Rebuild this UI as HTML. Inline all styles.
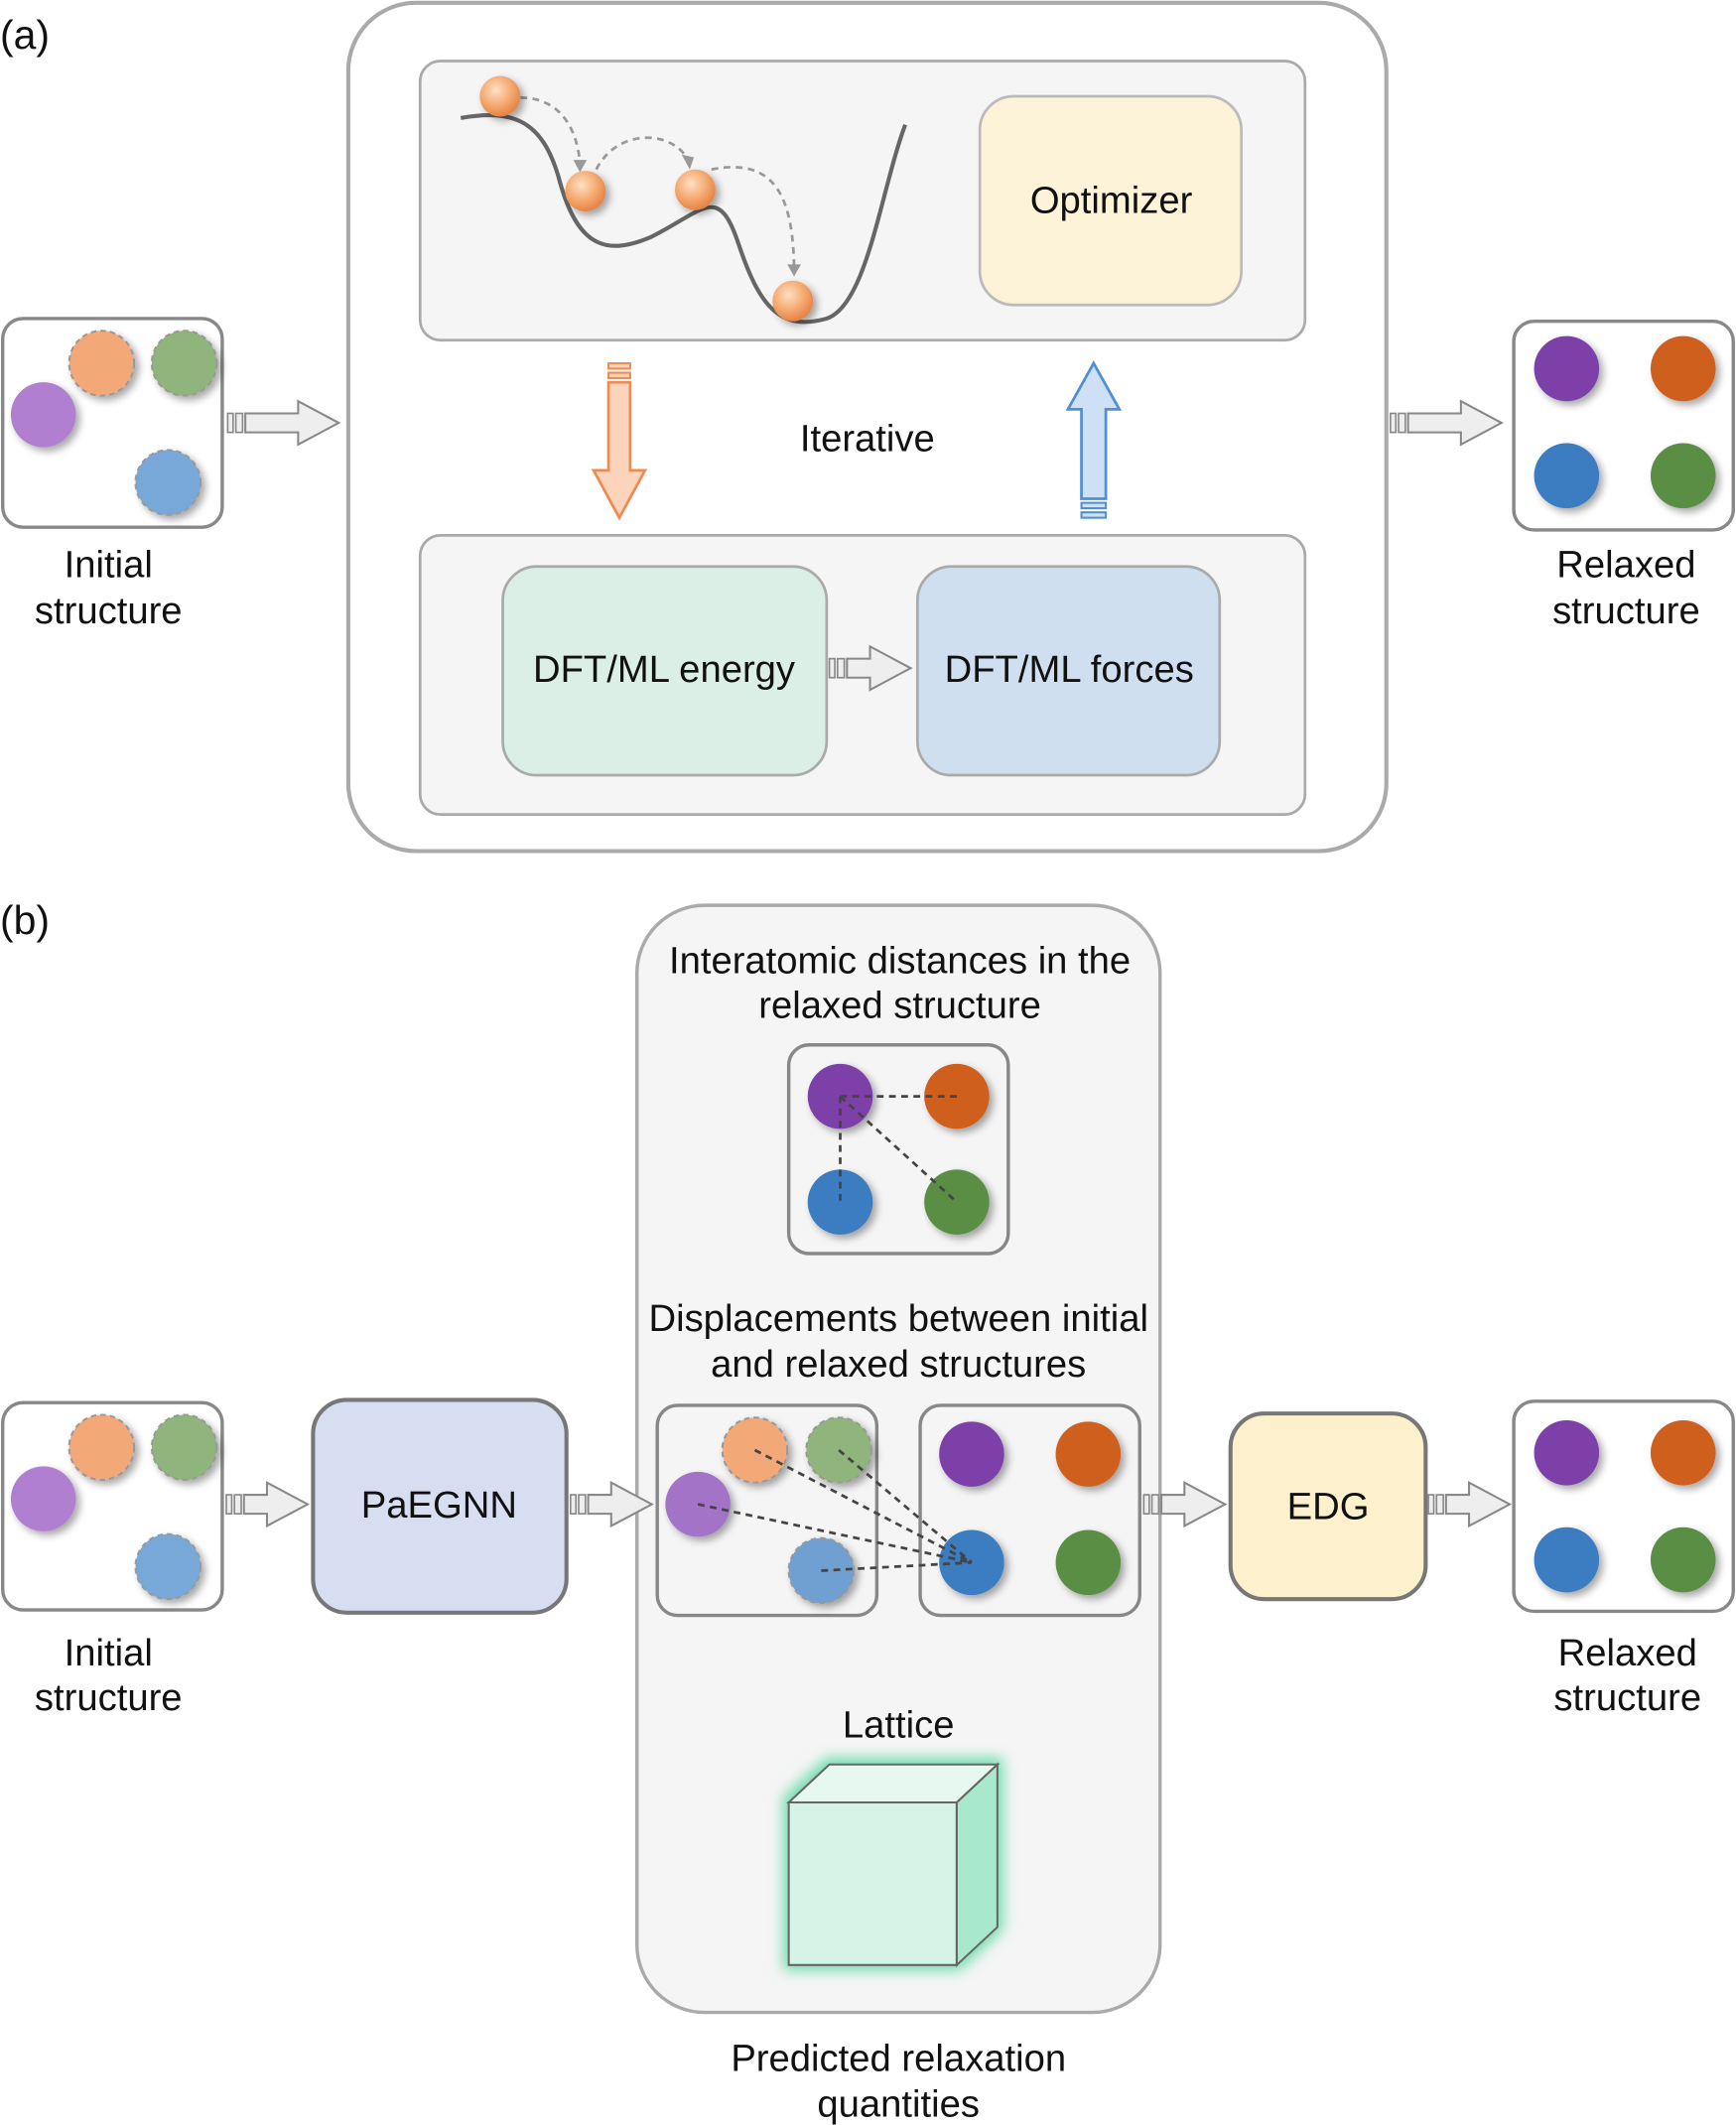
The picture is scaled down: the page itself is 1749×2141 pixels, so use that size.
<!DOCTYPE html>
<html><head><meta charset="utf-8"><style>
html,body{margin:0;padding:0;background:#fff}
svg{display:block}
text{font-family:"Liberation Sans",Arial,sans-serif;fill:#111}
</style></head><body>
<svg width="1749" height="2141" viewBox="0 0 1281 1568" xmlns="http://www.w3.org/2000/svg">
<defs>
<radialGradient id="ball" cx="40%" cy="35%" r="65%"><stop offset="0" stop-color="#fde0c4"/><stop offset="0.6" stop-color="#f5a86e"/><stop offset="1" stop-color="#e48446"/></radialGradient>
<filter id="sh" x="-50%" y="-50%" width="200%" height="200%"><feGaussianBlur in="SourceAlpha" stdDeviation="3"/><feOffset dx="3" dy="3"/><feComponentTransfer><feFuncA type="linear" slope="0.35"/></feComponentTransfer><feMerge><feMergeNode/><feMergeNode in="SourceGraphic"/></feMerge></filter>
<filter id="glow" x="-30%" y="-30%" width="160%" height="160%"><feGaussianBlur stdDeviation="5"/></filter>
<g id="arr"><rect x="0" y="-7" width="4" height="14" fill="#eee" stroke="#888" stroke-width="1.2"/><rect x="6" y="-7" width="5" height="14" fill="#eee" stroke="#888" stroke-width="1.2"/><path d="M13,-7 H52 V-16 L82,0 L52,16 V7 H13 Z" fill="#eee" stroke="#888" stroke-width="1.5"/></g>
<g id="arrS"><rect x="0" y="-7" width="4" height="14" fill="#eee" stroke="#888" stroke-width="1.2"/><rect x="6" y="-7" width="5" height="14" fill="#eee" stroke="#888" stroke-width="1.2"/><path d="M13,-7 H30 V-16 L60,0 L30,16 V7 H13 Z" fill="#eee" stroke="#888" stroke-width="1.5"/></g>
</defs>

<text x="0" y="36" font-size="30">(a)</text>
<rect x="257" y="2" width="766" height="626" rx="50" fill="#fff" stroke="#aaa" stroke-width="3"/>
<rect x="310" y="45" width="653" height="206" rx="15" fill="#f5f5f5" stroke="#aaa" stroke-width="2"/>
<rect x="723" y="71" width="193" height="154" rx="25" fill="#fdf3d9" stroke="#bbb" stroke-width="2"/>
<text x="820" y="157" font-size="28" text-anchor="middle">Optimizer</text>
<path d="M340,87 C380,80 400,90 412,130 C425,180 445,190 480,175 C520,155 530,135 545,180 C560,225 575,245 610,235 C640,225 650,140 668,92" fill="none" stroke="#666" stroke-width="3"/>
<g fill="none" stroke="#999" stroke-width="2" stroke-dasharray="5,4">
<path d="M384,72 C410,72 425,90 428,120"/><path d="M440,125 C455,95 495,95 508,118"/><path d="M525,125 C575,115 585,150 586,198"/>
</g>
<g fill="#999"><path d="M423,118 L433,118 L428,127Z"/><path d="M503,114 L512,116 L509,125Z"/><path d="M581,195 L591,195 L586,204Z"/></g>
<g filter="url(#sh)"><circle cx="369" cy="71" r="15" fill="url(#ball)"/><circle cx="432" cy="141" r="15" fill="url(#ball)"/><circle cx="513" cy="140" r="15" fill="url(#ball)"/><circle cx="585" cy="222" r="15" fill="url(#ball)"/></g>
<rect x="449" y="268" width="16" height="4" fill="#fbd4bb" stroke="#ef8a52" stroke-width="1.5"/>
<rect x="449" y="275" width="16" height="4" fill="#fbd4bb" stroke="#ef8a52" stroke-width="1.5"/>
<path d="M449,282 H465 V347 H476 L457,382 L438,347 H449 Z" fill="#fbd4bb" stroke="#ef8a52" stroke-width="2"/>
<rect x="798" y="378" width="18" height="4" fill="#cde0f5" stroke="#4f8fd6" stroke-width="1.5"/>
<rect x="798" y="371" width="18" height="4" fill="#cde0f5" stroke="#4f8fd6" stroke-width="1.5"/>
<path d="M798,368 H816 V302 H826 L807,268 L788,302 H798 Z" fill="#cde0f5" stroke="#4f8fd6" stroke-width="2"/>
<text x="640" y="333" font-size="28" text-anchor="middle">Iterative</text>
<rect x="310" y="395" width="653" height="206" rx="15" fill="#f5f5f5" stroke="#aaa" stroke-width="2"/>
<rect x="371" y="418" width="239" height="154" rx="25" fill="#dcefe6" stroke="#aaa" stroke-width="2"/>
<text x="490" y="503" font-size="28" text-anchor="middle">DFT/ML energy</text>
<rect x="677" y="418" width="223" height="154" rx="25" fill="#cfdff0" stroke="#aaa" stroke-width="2"/>
<text x="789" y="503" font-size="28" text-anchor="middle">DFT/ML forces</text>
<use href="#arrS" x="612" y="493"/>

<rect x="2" y="235" width="162" height="154" rx="15" fill="#fff" stroke="#888" stroke-width="2.5"/>
<g filter="url(#sh)">
<circle cx="75" cy="268" r="24" fill="#f3a878" stroke="#999" stroke-dasharray="4,3" stroke-width="1.5"/>
<circle cx="136" cy="268" r="24" fill="#8fb47c" stroke="#999" stroke-dasharray="4,3" stroke-width="1.5"/>
<circle cx="32" cy="306" r="24" fill="#b07fcf"/>
<circle cx="124" cy="356" r="24" fill="#78a8d8" stroke="#999" stroke-dasharray="4,3" stroke-width="1.5"/>
</g>
<text x="80" y="426" font-size="28" text-anchor="middle">Initial</text>
<text x="80" y="460" font-size="28" text-anchor="middle">structure</text>
<use href="#arr" x="168" y="312"/>
<rect x="1117" y="237" width="162" height="154" rx="15" fill="#fff" stroke="#888" stroke-width="2.5"/>
<g filter="url(#sh)">
<circle cx="1156" cy="272" r="24" fill="#7d3fa8"/><circle cx="1242" cy="272" r="24" fill="#cf5f1e"/>
<circle cx="1156" cy="351" r="24" fill="#3a7dc0"/><circle cx="1242" cy="351" r="24" fill="#5a8e45"/>
</g>
<text x="1200" y="426" font-size="28" text-anchor="middle">Relaxed</text>
<text x="1200" y="460" font-size="28" text-anchor="middle">structure</text>
<use href="#arr" x="1026" y="312"/>

<text x="0" y="689" font-size="30">(b)</text>
<rect x="470" y="668" width="386" height="817" rx="50" fill="#f5f5f5" stroke="#aaa" stroke-width="2.5"/>
<text x="664" y="718" font-size="28" text-anchor="middle">Interatomic distances in the</text>
<text x="664" y="751" font-size="28" text-anchor="middle">relaxed structure</text>
<rect x="582" y="771" width="162" height="154" rx="15" fill="#f5f5f5" stroke="#888" stroke-width="2.5"/>
<g filter="url(#sh)">
<circle cx="620" cy="809" r="24" fill="#7d3fa8"/><circle cx="706" cy="809" r="24" fill="#cf5f1e"/>
<circle cx="620" cy="887" r="24" fill="#3a7dc0"/><circle cx="706" cy="887" r="24" fill="#5a8e45"/>
</g>
<g stroke="#444" stroke-width="2" stroke-dasharray="5,4" fill="none">
<path d="M620,809 H706"/><path d="M620,809 V887"/><path d="M620,809 L706,887"/>
</g>
<text x="663" y="982" font-size="28" text-anchor="middle">Displacements between initial</text>
<text x="663" y="1016" font-size="28" text-anchor="middle">and relaxed structures</text>
<rect x="485" y="1037" width="162" height="155" rx="15" fill="#f5f5f5" stroke="#888" stroke-width="2.5"/>
<rect x="679" y="1037" width="162" height="155" rx="15" fill="#f5f5f5" stroke="#888" stroke-width="2.5"/>
<g filter="url(#sh)">
<circle cx="557" cy="1070" r="24" fill="#f3a878" stroke="#999" stroke-dasharray="4,3" stroke-width="1.5"/>
<circle cx="619" cy="1070" r="24" fill="#8fb47c" stroke="#999" stroke-dasharray="4,3" stroke-width="1.5"/>
<circle cx="515" cy="1110" r="24" fill="#a273c6"/>
<circle cx="606" cy="1159" r="24" fill="#6f9fd2" stroke="#999" stroke-dasharray="4,3" stroke-width="1.5"/>
<circle cx="717" cy="1073" r="24" fill="#7d3fa8"/><circle cx="803" cy="1073" r="24" fill="#cf5f1e"/>
<circle cx="717" cy="1153" r="24" fill="#3a7dc0"/><circle cx="803" cy="1153" r="24" fill="#5a8e45"/>
</g>
<g stroke="#444" stroke-width="2" stroke-dasharray="5,4" fill="none">
<path d="M557,1070 L717,1153"/><path d="M619,1070 L717,1153"/><path d="M515,1110 L717,1153"/><path d="M606,1159 L717,1153"/>
</g>
<text x="663" y="1282" font-size="28" text-anchor="middle">Lattice</text>
<g filter="url(#glow)"><path d="M578,1326 L610,1297 H740 V1424 L708,1454 H578 Z" fill="#6fdcae"/></g>
<path d="M582,1330 H706 V1450 H582 Z" fill="#d5f3e6" stroke="#666" stroke-width="1.5"/>
<path d="M582,1330 L612,1302 H736 L706,1330 Z" fill="#e6f8ef" stroke="#666" stroke-width="1.5"/>
<path d="M706,1330 L736,1302 V1422 L706,1450 Z" fill="#a8e8cc" stroke="#666" stroke-width="1.5"/>
<text x="663" y="1528" font-size="28" text-anchor="middle">Predicted relaxation</text>
<text x="663" y="1562" font-size="28" text-anchor="middle">quantities</text>

<rect x="2" y="1035" width="162" height="153" rx="15" fill="#fff" stroke="#888" stroke-width="2.5"/>
<g filter="url(#sh)">
<circle cx="75" cy="1068" r="24" fill="#f3a878" stroke="#999" stroke-dasharray="4,3" stroke-width="1.5"/>
<circle cx="136" cy="1068" r="24" fill="#8fb47c" stroke="#999" stroke-dasharray="4,3" stroke-width="1.5"/>
<circle cx="32" cy="1106" r="24" fill="#b07fcf"/>
<circle cx="124" cy="1156" r="24" fill="#78a8d8" stroke="#999" stroke-dasharray="4,3" stroke-width="1.5"/>
</g>
<text x="80" y="1229" font-size="28" text-anchor="middle">Initial</text>
<text x="80" y="1262" font-size="28" text-anchor="middle">structure</text>
<use href="#arrS" x="167" y="1110"/>
<rect x="231" y="1033" width="187" height="157" rx="25" fill="#d8def2" stroke="#777" stroke-width="3"/>
<text x="324" y="1120" font-size="28" text-anchor="middle">PaEGNN</text>
<use href="#arrS" x="421" y="1110"/>
<use href="#arrS" x="844" y="1110"/>
<rect x="908" y="1043" width="144" height="137" rx="25" fill="#fdf0cc" stroke="#777" stroke-width="3"/>
<text x="980" y="1121" font-size="28" text-anchor="middle">EDG</text>
<use href="#arrS" x="1054" y="1110"/>
<rect x="1117" y="1034" width="162" height="155" rx="15" fill="#fff" stroke="#888" stroke-width="2.5"/>
<g filter="url(#sh)">
<circle cx="1156" cy="1072" r="24" fill="#7d3fa8"/><circle cx="1242" cy="1072" r="24" fill="#cf5f1e"/>
<circle cx="1156" cy="1151" r="24" fill="#3a7dc0"/><circle cx="1242" cy="1151" r="24" fill="#5a8e45"/>
</g>
<text x="1201" y="1229" font-size="28" text-anchor="middle">Relaxed</text>
<text x="1201" y="1262" font-size="28" text-anchor="middle">structure</text>
</svg>
</body></html>
